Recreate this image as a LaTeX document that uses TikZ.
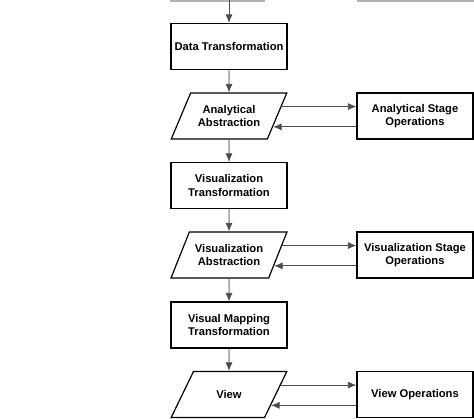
\documentclass[tikz,border=0pt]{standalone}
\usepackage{fontspec}
\setmainfont{Liberation Sans}
\usetikzlibrary{shapes.geometric,calc,arrows.meta}

\tikzset{
	box/.style={draw, line width=1.2pt, minimum width=116pt, minimum height=46pt, inner xsep=1pt, align=center, font=\fontsize{11.2}{13.2}\selectfont\bfseries},
	data/.style={box, trapezium, trapezium left angle=60, trapezium right angle=120, trapezium stretches=true},
	arrow/.style={-{Latex[length=8.5pt,width=7pt]}, draw=black!70, fill=black, line width=0.8pt},
	cut/.style={black!30, line width=2.5pt}
}

\begin{document}
\begin{tikzpicture}[x=1pt,y=1pt]
\useasboundingbox (0,0) rectangle (474,-419);

\draw [cut] (170,-1) -- (265,-1);
\draw [cut] (357,-1) -- (474,-1);
\coordinate (top) at (229,0);

\node (dt) at (229,-46.5) [box] {Data Transformation};
\node (aa) at (229,-116) [data] {Analytical\\Abstraction};
\node (vt) at (229,-185.5) [box] {Visualization\\Transformation};
\node (va) at (229,-255) [data] {Visualization\\Abstraction};
\node (vm) at (229,-325) [box] {Visual Mapping\\Transformation};
\node (vw) at (229,-394.5) [data] {View};

\node (ao) at (415,-116) [box] {Analytical Stage\\Operations};
\node (vo) at (415,-255) [box] {Visualization Stage\\Operations};
\node (wo) at (415,-394.5) [box] {View Operations};

\draw [arrow] (top) -- (dt);
\draw [arrow] (dt) -- (aa);
\draw [arrow] (aa) -- (vt);
\draw [arrow] (vt) -- (va);
\draw [arrow] (va) -- (vm);
\draw [arrow] (vm) -- (vw);

\foreach \a/\o in {aa/ao, va/vo, vw/wo} {
	\coordinate (\a out) at ($(\a.bottom right corner)!0.7!(\a.top right corner)$);
	\coordinate (\a in) at ($(\a.bottom right corner)!0.27!(\a.top right corner)$);
	\draw [arrow] (\a out) -- (\a out -| \o.west);
	\draw [arrow] (\a in -| \o.west) -- (\a in);
}
\end{tikzpicture}
\end{document}
